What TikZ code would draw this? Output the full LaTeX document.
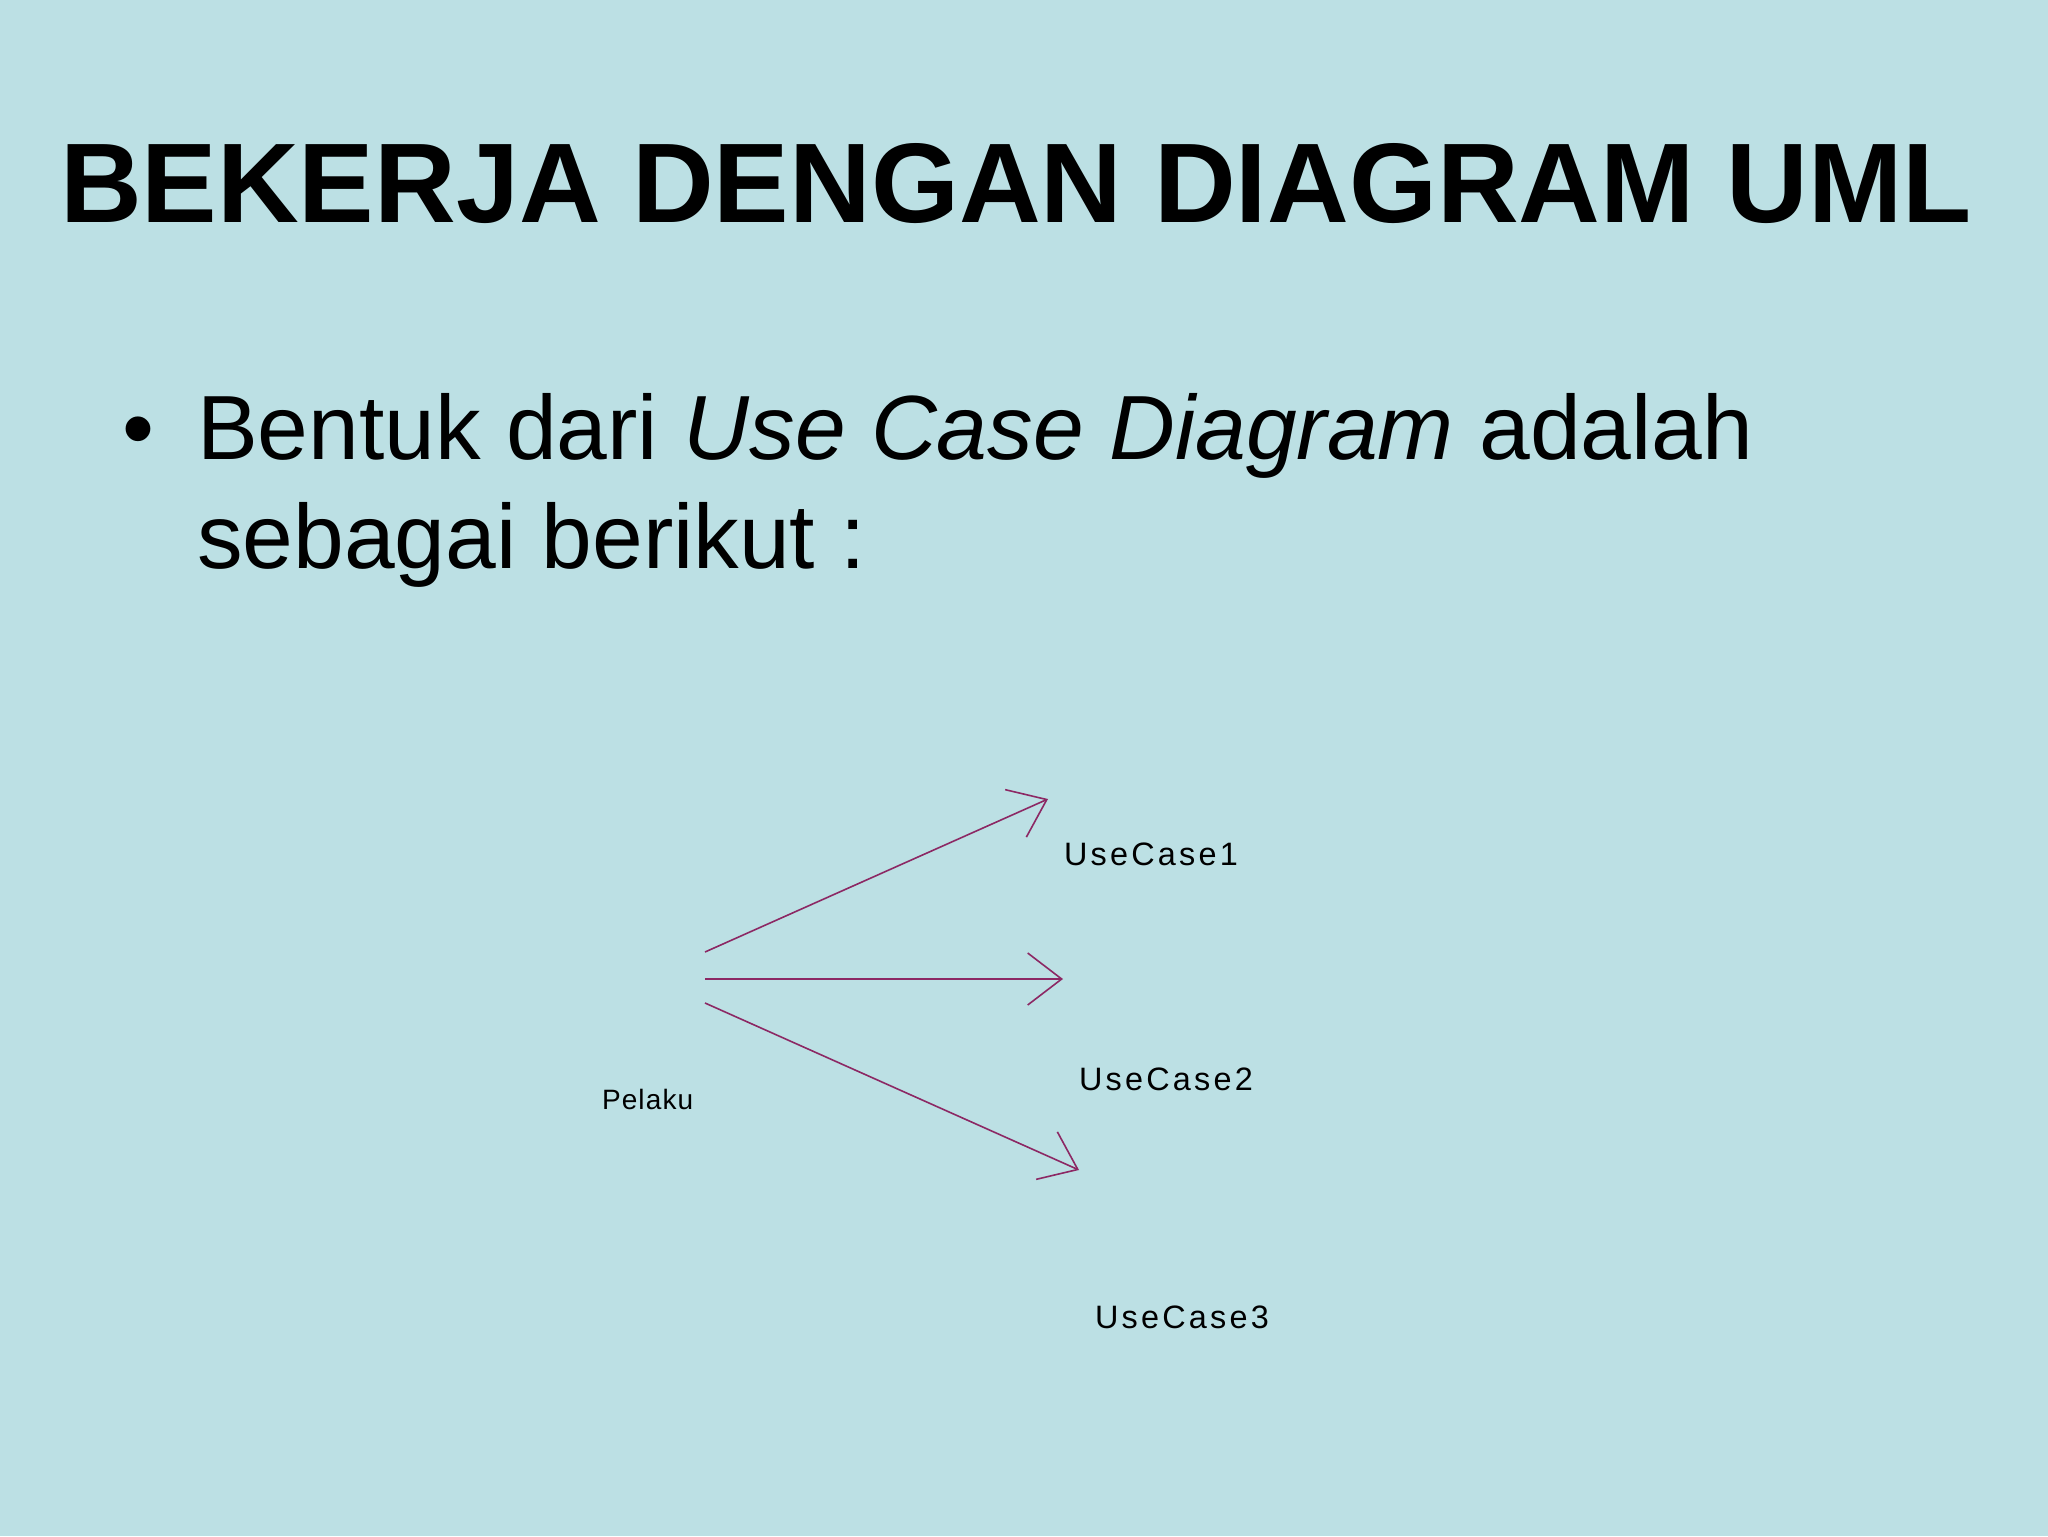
\documentclass[tikz,border=0pt]{standalone}
\usepackage{fontspec}
\setmainfont{Liberation Sans}
\usetikzlibrary{arrows.meta}
\definecolor{bgcol}{RGB}{188,224,228}
\definecolor{arrcol}{RGB}{140,40,100}
\tikzset{
  txt/.style={inner sep=0pt, outer sep=0pt, anchor=base west, text=black},
  uclabel/.style={txt, font=\addfontfeatures{LetterSpace=10}\fontsize{16.2pt}{18pt}\selectfont},
  actlabel/.style={txt, font=\addfontfeatures{LetterSpace=4}\fontsize{14pt}{16pt}\selectfont},
  assoc/.style={draw=arrcol, line width=0.8pt, -{Straight Barb[length=17pt, width=26pt, line width=0.8pt]}}
}
\begin{document}
\begin{tikzpicture}[x=0.5pt, y=-0.5pt]
  \fill[bgcol] (0,0) rectangle (2048,1536);
  \useasboundingbox (0,0) rectangle (2048,1536);

  % title
  \node[txt, font=\bfseries\fontsize{56.6pt}{68pt}\selectfont] (title) at (60,222) {BEKERJA DENGAN DIAGRAM UML};

  % bullet text
  \node[txt, font=\fontsize{45.6pt}{55pt}\selectfont] (bullet) at (122,459) {•};
  \node[txt, font=\fontsize{45.6pt}{55pt}\selectfont] (line1) at (197,459) {Bentuk dari \textit{Use Case Diagram} adalah};
  \node[txt, font=\fontsize{45.6pt}{55pt}\selectfont] (line2) at (197,568) {sebagai berikut :};

  % labels
  \node[actlabel] (pelaku) at (602,1109) {Pelaku};
  \node[uclabel] (uc1) at (1064,865) {UseCase1};
  \node[uclabel] (uc2) at (1079,1090) {UseCase2};
  \node[uclabel] (uc3) at (1095,1328) {UseCase3};

  % connector end points (actor and use case icons are not drawn)
  \coordinate (s1) at (705,952);
  \coordinate (s2) at (705,979);
  \coordinate (s3) at (705,1003);
  \coordinate (e1) at (1048,799);
  \coordinate (e2) at (1063,979);
  \coordinate (e3) at (1079,1170);

  \draw[assoc] (s1) -- (e1);
  \draw[assoc] (s2) -- (e2);
  \draw[assoc] (s3) -- (e3);
\end{tikzpicture}
\end{document}
